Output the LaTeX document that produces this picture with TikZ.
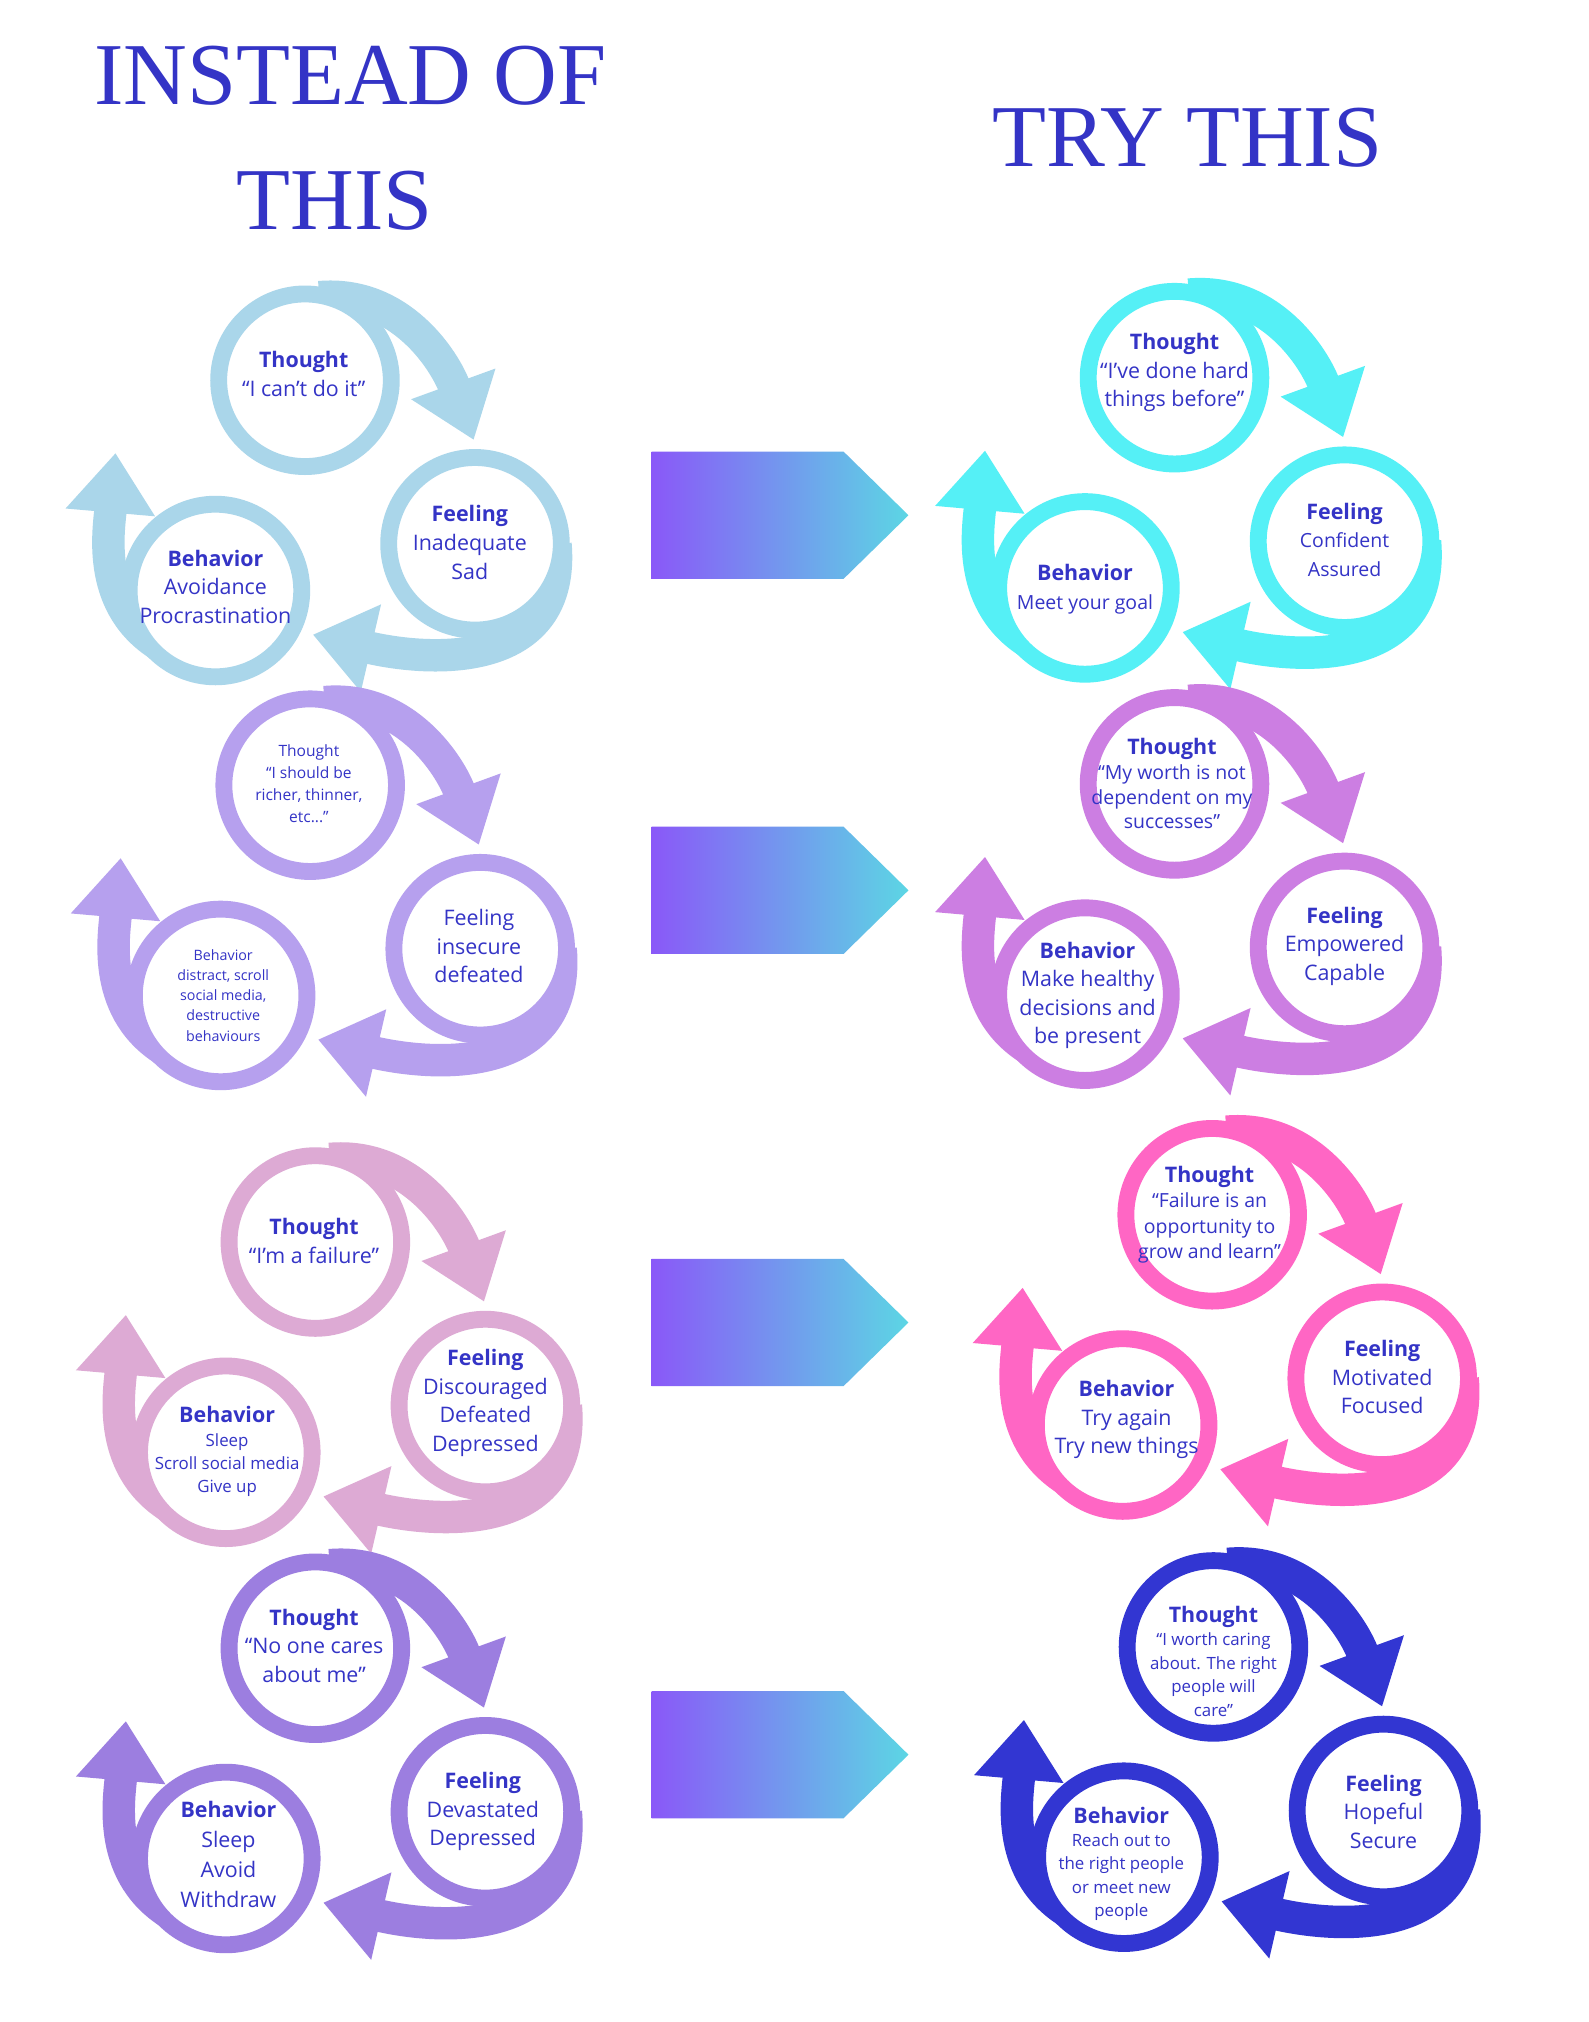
\documentclass[tikz,border=0pt]{standalone}
\usepackage{fontspec}
\setmainfont{Open Sans}
\newfontfamily\titlefont{Liberation Serif}
\usetikzlibrary{arrows.meta}
\definecolor{ink}{HTML}{3434C6}
\definecolor{cA}{HTML}{AAD6EA}
\definecolor{cB}{HTML}{B6A0EE}
\definecolor{cC}{HTML}{DDAAD4}
\definecolor{cD}{HTML}{9C7EE0}
\definecolor{cE}{HTML}{55F0F6}
\definecolor{cF}{HTML}{CC7EE2}
\definecolor{cG}{HTML}{FF66C4}
\definecolor{cH}{HTML}{3236D2}
\definecolor{gL}{HTML}{8A58F8}
\definecolor{gR}{HTML}{5CD6E4}
\tikzset{
 band/.style={line width=25pt,-{Triangle[length=46pt,width=66pt]}},
 ring/.style={line width=13pt,fill=white,circle,minimum size=133pt,inner sep=0pt},
 txt/.style={text=ink,align=center,font=\fontsize{16.5}{22}\selectfont},
 sm/.style={text=ink,align=center,font=\fontsize{12}{17}\selectfont},
 big/.style={left color=gL,right color=gR,draw=none},
 ttl/.style={text=ink,font=\titlefont\fontsize{68}{74}\selectfont}
}
% #1 name #2 cx #3 cy #4 color
\newcommand\cyc[4]{%
 \begin{scope}[shift={(#2,#3)},color=#4]
  \coordinate (#1s1) at (-10,-160); \coordinate (#1e1) at (109,-50);
  \coordinate (#1s2) at (172,30);   \coordinate (#1e2) at (-15,100);
  \coordinate (#1s3) at (-130,110); \coordinate (#1e3) at (-167,-40);
  \draw[band] (#1s1) to[out=5,in=110] (#1e1);
  \draw[band] (#1s2) .. controls (180,125) and (80,122) .. (#1e2);
  \draw[band] (#1s3) to[out=150,in=-95] (#1e3);
  \node[ring,draw=#4] (#1t) at (-21,-96) {};
  \node[ring,draw=#4] (#1f) at (110,30) {};
  \node[ring,draw=#4] (#1b) at (-90,66) {};
 \end{scope}}
\newcommand\bigarrow[2]{%
 \shade[big] (502,#2-49) -- (650,#2-49) -- (700,#2) -- (650,#2+49) -- (502,#2+49) -- cycle;
 \coordinate (#1) at (600,#2);}
\begin{document}
\begin{tikzpicture}[x=1pt,y=-1pt]
\useasboundingbox[fill=white] (0,0) rectangle (1224,1558);
\node[ttl] (t1) at (270,58) {INSTEAD OF};
\node[ttl] (t2) at (258,155) {THIS};
\node[ttl] (t3) at (915,106) {TRY THIS};
\cyc{a}{256}{389}{cA}
\cyc{b}{260}{701}{cB}
\cyc{c}{264}{1053}{cC}
\cyc{d}{264}{1366}{cD}
\cyc{e}{926}{387}{cE}
\cyc{f}{926}{700}{cF}
\cyc{g}{955}{1032}{cG}
\cyc{h}{956}{1365}{cH}
\bigarrow{ba}{397}
\bigarrow{bb}{686}
\bigarrow{bc}{1019}
\bigarrow{bd}{1352}
% L1
\node[txt] (a1) at (234,288) {\textbf{Thought}\\“I can’t do it”};
\node[txt] (a2) at (362,418) {\textbf{Feeling}\\Inadequate\\Sad};
\node[txt] (a3) at (166,452) {\textbf{Behavior}\\Avoidance\\Procrastination};
% L2
\node[sm] (b1) at (238,604) {Thought\\“I should be\\richer, thinner,\\etc...”};
\node[txt] (b2) at (369,729) {Feeling\\insecure\\defeated};
\node[sm,font=\fontsize{11}{15.5}\selectfont] (b3) at (172,767) {Behavior\\distract, scroll\\social media,\\destructive\\behaviours};
% L3
\node[txt] (c1) at (242,956) {\textbf{Thought}\\“I’m a failure”};
\node[txt] (c2) at (374,1081) {\textbf{Feeling}\\Discouraged\\Defeated\\Depressed};
\node[txt] (c3h) at (175,1090) {\textbf{Behavior}};
\node[sm,font=\fontsize{13}{18}\selectfont] (c3) at (175,1129) {Sleep\\Scroll social media\\Give up};
% L4
\node[txt] (d1) at (242,1268) {\textbf{Thought}\\“No one cares\\about me”};
\node[txt] (d2) at (372,1396) {\textbf{Feeling}\\Devastated\\Depressed};
\node[txt,font=\fontsize{16.5}{23}\selectfont] (d3) at (176,1429) {\textbf{Behavior}\\Sleep\\Avoid\\Withdraw};
% R1
\node[txt] (e1) at (905,287) {\textbf{Thought}\\“I’ve done hard\\things before”};
\node[txt] (e2) at (1036,416) {\textbf{Feeling}\\{\fontsize{15}{20}\selectfont Confident}\\{\fontsize{15}{20}\selectfont Assured}};
\node[txt] (e3) at (836,454) {\textbf{Behavior}\\{\fontsize{15}{20}\selectfont Meet your goal}};
% R2
\node[txt,font=\fontsize{15}{19}\selectfont] (f1) at (903,604) {\textbf{\fontsize{16.5}{19}\selectfont Thought}\\“My worth is not\\dependent on my\\successes”};
\node[txt] (f2) at (1036,729) {\textbf{Feeling}\\Empowered\\Capable};
\node[txt] (f3) at (838,767) {\textbf{Behavior}\\Make healthy\\decisions and\\be present};
% R3
\node[txt,font=\fontsize{15}{19.5}\selectfont] (g1) at (932,936) {\textbf{\fontsize{16.5}{19}\selectfont Thought}\\“Failure is an\\opportunity to\\grow and learn”};
\node[txt] (g2) at (1065,1061) {\textbf{Feeling}\\Motivated\\Focused};
\node[txt] (g3) at (868,1094) {\textbf{Behavior}\\Try again\\Try new things};
% R4
\node[sm,font=\fontsize{13}{18}\selectfont] (h1) at (935,1280) {\textbf{\fontsize{16.5}{19}\selectfont Thought}\\“I worth caring\\about. The right\\people will\\care”};
\node[txt] (h2) at (1066,1396) {\textbf{Feeling}\\Hopeful\\Secure};
\node[sm,font=\fontsize{13}{18}\selectfont] (h3) at (864,1436) {\textbf{\fontsize{16.5}{19}\selectfont Behavior}\\Reach out to\\the right people\\or meet new\\people};
\end{tikzpicture}
\end{document}
